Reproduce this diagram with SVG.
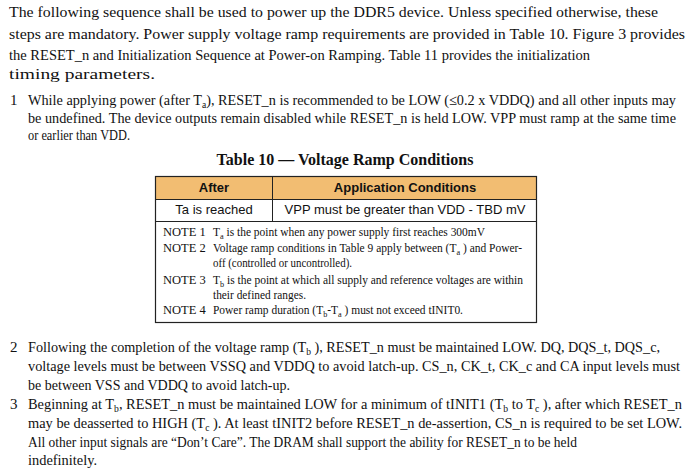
<svg xmlns="http://www.w3.org/2000/svg" width="692" height="470" viewBox="0 0 692 470">
<style>
.b{font-family:"Liberation Serif",serif;font-size:15px;fill:#111}
.t{font-family:"Liberation Serif",serif;font-size:16px;font-weight:bold;fill:#111}
.h{font-family:"Liberation Sans",sans-serif;font-size:13px;font-weight:bold;fill:#111}
.c{font-family:"Liberation Sans",sans-serif;font-size:13px;fill:#111}
.n{font-family:"Liberation Serif",serif;font-size:12.5px;fill:#111}
</style>
<rect width="692" height="470" fill="#fff"/>
<g id="para">
<text class="b" x="9" y="17" textLength="649" lengthAdjust="spacingAndGlyphs">The following sequence shall be used to power up the DDR5 device. Unless specified otherwise, these</text>
<text class="b" x="9" y="39" textLength="676" lengthAdjust="spacingAndGlyphs">steps are mandatory. Power supply voltage ramp requirements are provided in Table 10. Figure 3 provides</text>
<text class="b" x="9" y="60" textLength="581" lengthAdjust="spacingAndGlyphs">the RESET_n and Initialization Sequence at Power-on Ramping. Table 11 provides the initialization</text>
<text class="b" x="9" y="79" textLength="146" lengthAdjust="spacingAndGlyphs">timing parameters.</text>
</g>
<g id="item1">
<text class="b" x="10" y="105">1</text>
<text class="b" x="28" y="105" textLength="648" lengthAdjust="spacingAndGlyphs">While applying power (after T<tspan font-size="10" dy="3">a</tspan><tspan dy="-3">), RESET_n is recommended to be LOW (≤0.2 x VDDQ) and all other inputs may</tspan></text>
<text class="b" x="28" y="123" textLength="648" lengthAdjust="spacingAndGlyphs">be undefined. The device outputs remain disabled while RESET_n is held LOW. VPP must ramp at the same time</text>
<text class="b" x="28" y="140" textLength="102" lengthAdjust="spacingAndGlyphs">or earlier than VDD.</text>
</g>
<g id="table">
<text class="t" x="345" y="165" text-anchor="middle">Table 10 — Voltage Ramp Conditions</text>
<rect x="155.5" y="176.5" width="381" height="23" fill="#F2BD72"/>
<rect x="155.5" y="176.5" width="381" height="146" fill="none" stroke="#222" stroke-width="1.2"/>
<line x1="155.5" y1="199.5" x2="536.5" y2="199.5" stroke="#222"/>
<line x1="155.5" y1="221.5" x2="536.5" y2="221.5" stroke="#222" stroke-width="1.2"/>
<line x1="272.5" y1="176.5" x2="272.5" y2="221.5" stroke="#222"/>
<text class="h" x="214" y="192" text-anchor="middle">After</text>
<text class="h" x="405" y="192" text-anchor="middle">Application Conditions</text>
<text class="c" x="214" y="214" text-anchor="middle">Ta is reached</text>
<text class="c" x="405" y="214" text-anchor="middle">VPP must be greater than VDD - TBD mV</text>
<text class="n" x="163" y="236">NOTE 1</text>
<text class="n" x="213" y="236" textLength="272" lengthAdjust="spacingAndGlyphs">T<tspan font-size="9" dy="2.5">a</tspan><tspan dy="-2.5"> is the point when any power supply first reaches 300mV</tspan></text>
<text class="n" x="163" y="252">NOTE 2</text>
<text class="n" x="213" y="252" textLength="309" lengthAdjust="spacingAndGlyphs">Voltage ramp conditions in Table 9 apply between (T<tspan font-size="9" dy="2.5">a</tspan><tspan dy="-2.5"> ) and Power-</tspan></text>
<text class="n" x="213" y="267" textLength="139" lengthAdjust="spacingAndGlyphs">off (controlled or uncontrolled).</text>
<text class="n" x="163" y="284">NOTE 3</text>
<text class="n" x="213" y="284" textLength="310" lengthAdjust="spacingAndGlyphs">T<tspan font-size="9" dy="2.5">b</tspan><tspan dy="-2.5"> is the point at which all supply and reference voltages are within</tspan></text>
<text class="n" x="213" y="299" textLength="93" lengthAdjust="spacingAndGlyphs">their defined ranges.</text>
<text class="n" x="163" y="314">NOTE 4</text>
<text class="n" x="213" y="314" textLength="250" lengthAdjust="spacingAndGlyphs">Power ramp duration (T<tspan font-size="9" dy="2.5">b</tspan><tspan dy="-2.5">-T</tspan><tspan font-size="9" dy="2.5">a</tspan><tspan dy="-2.5"> ) must not exceed tINIT0.</tspan></text>
</g>
<g id="item2">
<text class="b" x="10" y="352">2</text>
<text class="b" x="28" y="352" textLength="632" lengthAdjust="spacingAndGlyphs">Following the completion of the voltage ramp (T<tspan font-size="10" dy="3">b</tspan><tspan dy="-3"> ), RESET_n must be maintained LOW. DQ, DQS_t, DQS_c,</tspan></text>
<text class="b" x="28" y="371" textLength="652" lengthAdjust="spacingAndGlyphs">voltage levels must be between VSSQ and VDDQ to avoid latch-up. CS_n, CK_t, CK_c and CA input levels must</text>
<text class="b" x="28" y="390" textLength="262" lengthAdjust="spacingAndGlyphs">be between VSS and VDDQ to avoid latch-up.</text>
</g>
<g id="item3">
<text class="b" x="10" y="409">3</text>
<text class="b" x="28" y="409" textLength="654" lengthAdjust="spacingAndGlyphs">Beginning at T<tspan font-size="10" dy="3">b</tspan><tspan dy="-3">, RESET_n must be maintained LOW for a minimum of tINIT1 (T</tspan><tspan font-size="10" dy="3">b</tspan><tspan dy="-3"> to T</tspan><tspan font-size="10" dy="3">c</tspan><tspan dy="-3"> ), after which RESET_n</tspan></text>
<text class="b" x="28" y="428" textLength="654" lengthAdjust="spacingAndGlyphs">may be deasserted to HIGH (T<tspan font-size="10" dy="3">c</tspan><tspan dy="-3"> ). At least tINIT2 before RESET_n de-assertion, CS_n is required to be set LOW.</tspan></text>
<text class="b" x="28" y="447" textLength="549" lengthAdjust="spacingAndGlyphs">All other input signals are “Don’t Care”. The DRAM shall support the ability for RESET_n to be held</text>
<text class="b" x="28" y="465" textLength="69" lengthAdjust="spacingAndGlyphs">indefinitely.</text>
</g>
</svg>
